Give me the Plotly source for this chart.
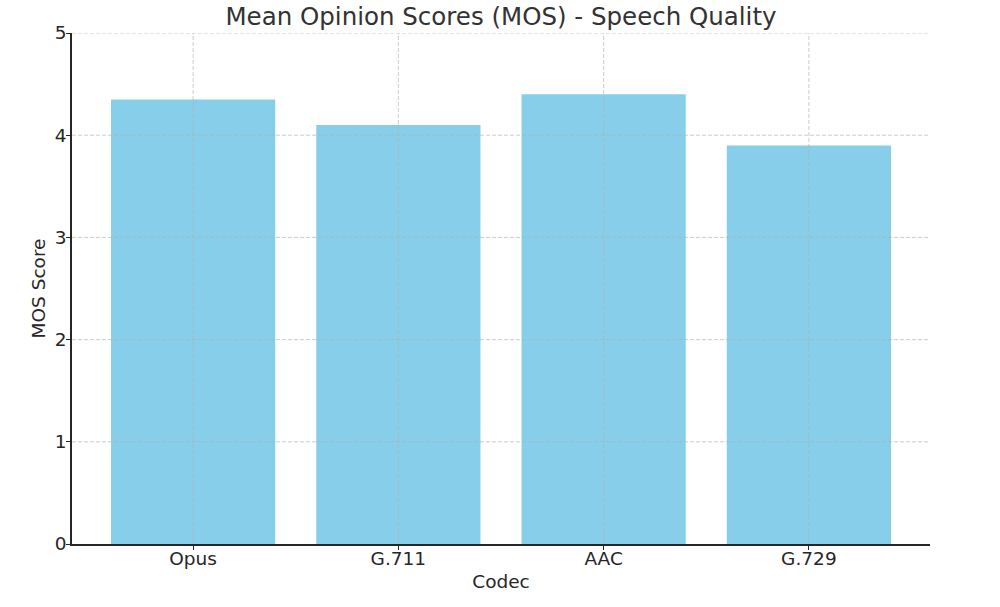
import plotly.graph_objects as go

codecs = ["Opus", "G.711", "AAC", "G.729"]
mos_scores = [4.35, 4.1, 4.4, 3.9]
y_ticks = [0, 1, 2, 3, 4, 5]

grid_color = "rgba(176,176,176,0.65)"

fig = go.Figure(
    go.Bar(x=codecs, y=mos_scores, marker_color="#87CEEB", marker_line_width=0, width=0.8)
)

axis_common = dict(
    showgrid=False,
    showline=True,
    linecolor="#262626",
    linewidth=1.5,
    ticks="outside",
    ticklen=4,
    tickcolor="#262626",
    zeroline=False,
    tickfont=dict(size=18.5, color="#262626"),
    title_font=dict(size=18.5, color="#262626"),
)

fig.update_xaxes(axis_common, title_text="Codec", range=[-0.59, 3.59],
                 title_standoff=7, ticklabelstandoff=-7)
fig.update_yaxes(axis_common, title_text="MOS Score", range=[0, 5], tickvals=y_ticks,
                 title_standoff=4, ticklabelstandoff=-4)

# dashed grid drawn on top of bars, like the original
for c in codecs:
    fig.add_shape(type="line", xref="x", yref="paper", x0=c, x1=c, y0=0, y1=1,
                  line=dict(color=grid_color, width=1, dash="4px,2px"), layer="above")
for t in y_ticks[1:]:
    fig.add_shape(type="line", xref="paper", yref="y", x0=0, x1=1, y0=t, y1=t,
                  line=dict(color=grid_color, width=1, dash="4px,2px"), layer="above")

fig.update_layout(
    title=dict(text="Mean Opinion Scores (MOS) - Speech Quality", x=0.5, xref="paper",
               xanchor="center", y=0.973, yanchor="middle",
               font=dict(size=24.5, color="#333333")),
    font=dict(family="DejaVu Sans"),
    plot_bgcolor="white",
    paper_bgcolor="white",
    width=1000,
    height=607,
    margin=dict(l=72, r=70, t=33, b=63),
    showlegend=False,
)

# drop the browser's default body margin so the figure sits at the page corner
fig.write_html("out.html", config={"displayModeBar": False},
               post_script="document.body.style.margin='0px';")
